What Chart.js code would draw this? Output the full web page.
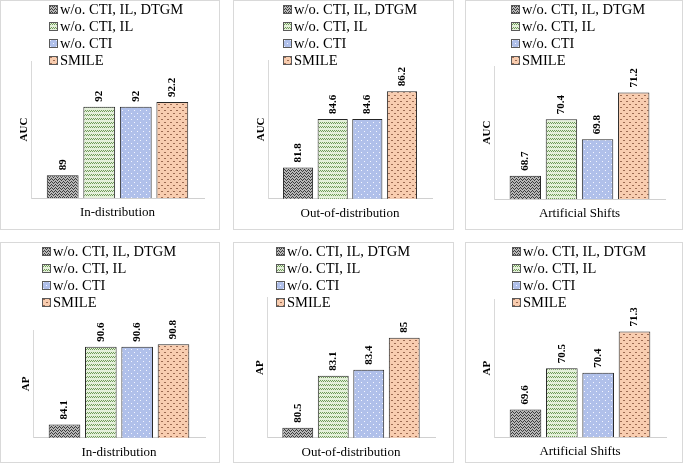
<!DOCTYPE html>
<html>
<head>
<meta charset="utf-8">
<script src="https://cdn.jsdelivr.net/npm/chart.js@4.4.0/dist/chart.umd.min.js"></script>
<style>
  html, body { margin: 0; padding: 0; background: #fff; }
  body { position: relative; width: 685px; height: 472px; overflow: hidden; }
  .panel { position: absolute; box-sizing: border-box; border: 1px solid #d9d9d9; }
  .panel > canvas { position: absolute; left: 0; top: 0; }
  .legend { position: absolute; top: 0; margin: 0; padding: 0; list-style: none;
            font: 14.5px "Liberation Serif", serif; color: #000; }
  .legend li { display: flex; align-items: center; height: 17px; white-space: nowrap; }
  .legend canvas { margin-right: 2px; }
</style>
</head>
<body>
<script>
// series (legend entries)
const seriesNames = ['w/o. CTI, IL, DTGM', 'w/o. CTI, IL', 'w/o. CTI', 'SMILE'];

// one panel per setting
const categories = ['In-distribution', 'Out-of-distribution', 'Artificial Shifts',
                    'In-distribution', 'Out-of-distribution', 'Artificial Shifts'];
const metrics = ['AUC', 'AUC', 'AUC', 'AP', 'AP', 'AP'];

const aucIn = [89, 92, 92, 92.2];
const aucOut = [81.8, 84.6, 84.6, 86.2];
const aucShift = [68.7, 70.4, 69.8, 71.2];
const apIn = [84.1, 90.6, 90.6, 90.8];
const apOut = [80.5, 83.1, 83.4, 85];
const apShift = [69.6, 70.5, 70.4, 71.3];
const panelValues = [aucIn, aucOut, aucShift, apIn, apOut, apShift];

const axisMin = [88, 80, 68, 83, 80, 69];
const axisMax = [94, 88, 72, 92, 87, 72];

// page layout: panel boxes [left, top, width, height] incl. border
const panelBoxes = [
  [0, 0, 220, 230], [233, 0, 221, 230], [465, 0, 218, 230],
  [0, 242, 220, 221], [233, 242, 221, 221], [465, 242, 218, 221]
];
// plot area inside each canvas [left, top, right, bottom]
const plotAreas = [
  [30, 60, 203, 197], [34, 59, 198, 197.7], [28, 65, 199, 198],
  [32, 87, 204, 194.7], [33, 54.7, 201, 194.7], [28, 56.3, 200, 194]
];
const legendLeft = [48, 49, 45, 41, 42, 46];
const Y_AXIS_W = 14.5;
const X_AXIS_H = 28;

Chart.defaults.font.family = '"Liberation Serif", serif';
Chart.defaults.color = '#000';

function makePattern(w, h, bg, ink, paint) {
  const c = document.createElement('canvas');
  c.width = w;
  c.height = h;
  const g = c.getContext('2d');
  g.fillStyle = bg;
  g.fillRect(0, 0, w, h);
  g.fillStyle = ink;
  paint(g);
  return g.createPattern(c, 'repeat');
}

const patterns = [
  // dark grey weave
  makePattern(4, 3, '#b8b8b8', '#3c3c3c', g => {
    g.fillRect(0, 2, 1, 1); g.fillRect(1, 1, 1, 1); g.fillRect(2, 0, 1, 1); g.fillRect(3, 1, 1, 1);
  }),
  // green horizontal waves
  makePattern(4, 4, '#e4f0da', '#6f9a58', g => {
    g.fillRect(0, 1, 1, 1); g.fillRect(1, 2, 1, 1); g.fillRect(2, 1, 1, 1); g.fillRect(3, 2, 1, 1);
  }),
  // blue with white dots
  makePattern(6, 6, '#b0c0ea', '#f4f6ff', g => {
    g.fillRect(1, 1, 1, 1); g.fillRect(4, 4, 1, 1);
  }),
  // peach with brown dots
  makePattern(6, 6, '#f8cdb0', '#9c6b52', g => {
    g.fillRect(1, 1, 2, 1); g.fillRect(4, 4, 2, 1);
  })
];

// rotated value labels above each bar
const valueLabels = {
  id: 'valueLabels',
  afterDatasetsDraw(chart) {
    const ctx = chart.ctx;
    ctx.save();
    ctx.font = 'bold 11px "Liberation Serif", serif';
    ctx.fillStyle = '#000';
    ctx.textAlign = 'left';
    ctx.textBaseline = 'middle';
    chart.data.datasets.forEach((ds, i) => {
      chart.getDatasetMeta(i).data.forEach((bar, j) => {
        ctx.save();
        ctx.translate(bar.x, bar.y - 5);
        ctx.rotate(-Math.PI / 2);
        ctx.fillText(String(ds.data[j]), 0, 0);
        ctx.restore();
      });
    });
    ctx.restore();
  }
};

function buildLegend(chart, panel, left) {
  const ul = document.createElement('ul');
  ul.className = 'legend';
  ul.style.left = left + 'px';
  const items = Chart.defaults.plugins.legend.labels.generateLabels(chart);
  items.forEach(item => {
    const li = document.createElement('li');
    const sw = document.createElement('canvas');
    sw.width = 9;
    sw.height = 9;
    const g = sw.getContext('2d');
    g.fillStyle = item.fillStyle;
    g.fillRect(0, 0, 9, 9);
    g.strokeStyle = '#595959';
    g.lineWidth = 1;
    g.strokeRect(0.5, 0.5, 8, 8);
    li.appendChild(sw);
    li.appendChild(document.createTextNode(item.text));
    ul.appendChild(li);
  });
  panel.appendChild(ul);
}

panelBoxes.forEach(([pl, pt, pw, ph], i) => {
  const panel = document.createElement('div');
  panel.className = 'panel';
  panel.style.left = pl + 'px';
  panel.style.top = pt + 'px';
  panel.style.width = pw + 'px';
  panel.style.height = ph + 'px';
  const cw = pw - 2;
  const ch = ph - 2;
  const canvas = document.createElement('canvas');
  canvas.width = cw;
  canvas.height = ch;
  canvas.style.width = cw + 'px';
  canvas.style.height = ch + 'px';
  panel.appendChild(canvas);
  document.body.appendChild(panel);

  const [l, t, r, b] = plotAreas[i];
  const chart = new Chart(canvas, {
    type: 'bar',
    data: {
      labels: [categories[i]],
      datasets: seriesNames.map((name, k) => ({
        label: name,
        data: [panelValues[i][k]],
        backgroundColor: patterns[k],
        borderColor: '#262626',
        borderWidth: 1,
        categoryPercentage: 0.845,
        barPercentage: 0.87
      }))
    },
    options: {
      responsive: false,
      animation: false,
      layout: {
        padding: { left: l - Y_AXIS_W, top: t, right: cw - r, bottom: ch - b - X_AXIS_H }
      },
      plugins: {
        legend: { display: false },
        tooltip: { enabled: false }
      },
      scales: {
        x: {
          grid: { display: false, drawTicks: false },
          border: { display: true, color: '#d0d0d0' },
          ticks: { color: '#000', font: { size: 13 }, padding: 7 },
          afterFit: s => { s.height = X_AXIS_H; }
        },
        y: {
          min: axisMin[i],
          max: axisMax[i],
          ticks: { display: false },
          grid: { display: false, drawTicks: false },
          border: { display: true, color: '#d9d9d9' },
          title: {
            display: true,
            text: metrics[i],
            color: '#000',
            font: { size: 11, weight: 'bold' },
            padding: { top: 1, bottom: 0 }
          },
          afterFit: s => { s.width = Y_AXIS_W; }
        }
      }
    },
    plugins: [valueLabels]
  });
  buildLegend(chart, panel, legendLeft[i]);
});
</script>
</body>
</html>
